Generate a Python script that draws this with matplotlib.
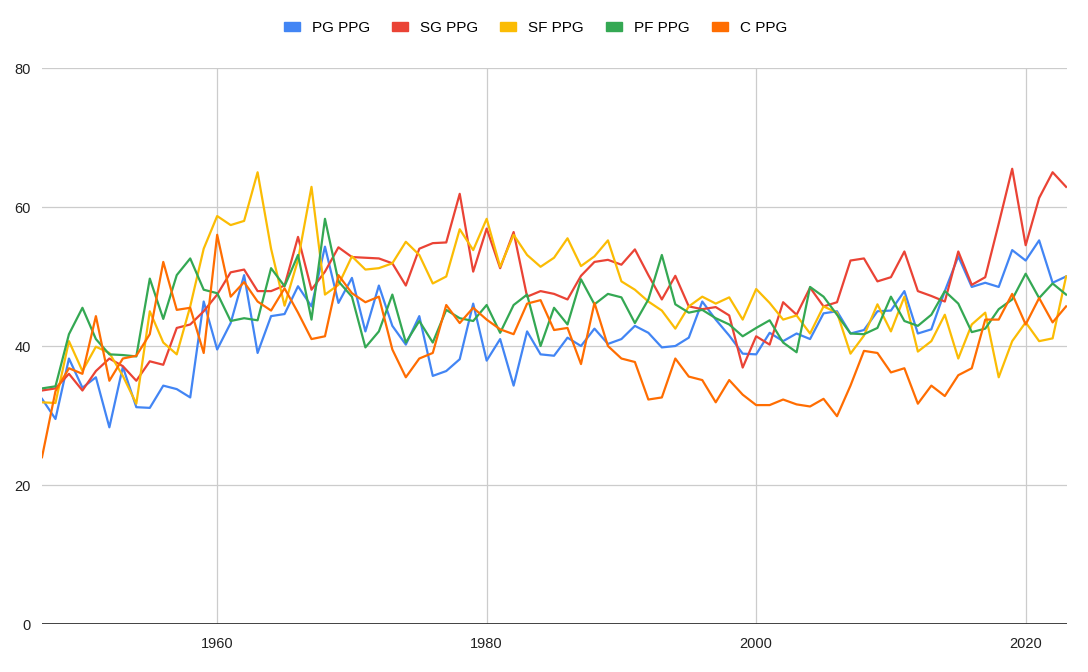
import numpy as np
import matplotlib
matplotlib.use('Agg')
import matplotlib.pyplot as plt
import matplotlib.patches as mpatches

plt.rcParams['font.family'] = ['Liberation Sans', 'DejaVu Sans']

# ── data: average points per game by position, 1947-2023 ──
years = np.arange(1947, 2024)

pg_ppg = [32.4, 29.5, 38.2, 34.0, 35.5, 28.3, 37.0, 31.2, 31.1, 34.3,
          33.8, 32.6, 46.4, 39.5, 43.3, 50.2, 39.0, 44.3, 44.6, 48.6,
          45.7, 54.3, 46.2, 49.8, 42.1, 48.7, 42.9, 40.2, 44.3, 35.7,
          36.4, 38.1, 46.1, 37.9, 41.0, 34.3, 42.1, 38.8, 38.6, 41.2,
          40.0, 42.5, 40.3, 41.0, 42.9, 41.9, 39.8, 40.0, 41.2, 46.4,
          43.8, 41.5, 38.9, 38.8, 41.9, 40.7, 41.8, 41.0, 44.7, 45.0,
          41.8, 42.3, 45.0, 45.1, 47.9, 41.8, 42.4, 47.9, 52.9, 48.5,
          49.1, 48.5, 53.8, 52.3, 55.2, 49.1, 50.0]

sg_ppg = [33.6, 33.9, 36.0, 33.6, 36.4, 38.2, 37.1, 35.0, 37.8, 37.3,
          42.6, 43.1, 45.0, 47.4, 50.6, 51.0, 47.9, 47.9, 48.7, 55.7,
          48.1, 50.7, 54.2, 52.8, 52.7, 52.6, 51.9, 48.7, 54.0, 54.8,
          54.9, 61.9, 50.7, 56.9, 51.2, 56.4, 47.1, 47.9, 47.5, 46.7,
          50.1, 52.1, 52.4, 51.7, 53.9, 50.2, 46.7, 50.1, 45.7, 45.3,
          45.6, 44.4, 36.9, 41.4, 40.2, 46.3, 44.5, 48.4, 45.7, 46.3,
          52.3, 52.6, 49.3, 49.9, 53.6, 47.9, 47.2, 46.4, 53.6, 48.8,
          49.9, 57.6, 65.5, 54.5, 61.3, 65.0, 62.9]

sf_ppg = [31.9, 31.8, 40.7, 36.4, 39.9, 39.0, 35.7, 31.7, 45.0, 40.5,
          38.8, 45.7, 54.0, 58.7, 57.4, 58.0, 65.0, 54.0, 45.8, 52.4,
          62.9, 47.4, 48.8, 52.9, 51.0, 51.2, 51.9, 55.0, 53.1, 49.0,
          50.0, 56.8, 53.8, 58.3, 51.4, 56.0, 53.1, 51.4, 52.7, 55.5,
          51.5, 52.9, 55.2, 49.3, 48.1, 46.4, 45.1, 42.5, 45.7, 47.1,
          46.1, 47.0, 43.8, 48.2, 46.2, 43.8, 44.4, 41.8, 45.7, 44.8,
          38.9, 41.5, 46.0, 42.1, 47.1, 39.2, 40.7, 44.5, 38.2, 43.1,
          44.8, 35.5, 40.7, 43.4, 40.7, 41.1, 50.0]

pf_ppg = [33.9, 34.2, 41.7, 45.5, 41.0, 38.8, 38.7, 38.5, 49.7, 43.9,
          50.2, 52.6, 48.1, 47.6, 43.6, 44.0, 43.7, 51.2, 48.6, 53.1,
          43.8, 58.3, 49.3, 47.1, 39.8, 42.1, 47.4, 40.5, 43.6, 40.5,
          45.2, 44.0, 43.6, 45.9, 41.9, 45.9, 47.4, 40.0, 45.5, 43.1,
          49.6, 46.0, 47.5, 47.0, 43.3, 46.7, 53.1, 46.0, 44.8, 45.2,
          44.0, 43.1, 41.4, 42.6, 43.7, 40.5, 39.1, 48.5, 47.1, 44.5,
          41.8, 41.7, 42.6, 47.1, 43.6, 42.9, 44.5, 47.9, 46.1, 42.0,
          42.5, 45.3, 46.7, 50.4, 46.9, 49.0, 47.4]

c_ppg = [24.0, 33.5, 36.8, 36.0, 44.3, 35.0, 38.2, 38.6, 41.7, 52.1,
         45.2, 45.5, 39.0, 56.0, 47.1, 49.2, 46.4, 45.1, 48.3, 44.8,
         41.0, 41.4, 50.2, 47.6, 46.3, 47.1, 39.5, 35.5, 38.2, 39.0,
         45.9, 43.3, 45.5, 43.8, 42.4, 41.7, 46.1, 46.6, 42.3, 42.6,
         37.4, 46.2, 40.0, 38.2, 37.7, 32.3, 32.6, 38.2, 35.6, 35.1,
         31.9, 35.1, 33.0, 31.5, 31.5, 32.3, 31.6, 31.3, 32.4, 29.9,
         34.3, 39.3, 39.0, 36.2, 36.8, 31.7, 34.3, 32.8, 35.8, 36.8,
         43.8, 43.8, 47.5, 43.1, 46.9, 43.4, 45.7]

series_names = ['PG PPG', 'SG PPG', 'SF PPG', 'PF PPG', 'C PPG']
series_data = [pg_ppg, sg_ppg, sf_ppg, pf_ppg, c_ppg]
colors = ['#4285F4', '#EA4335', '#FBBC04', '#34A853', '#FF6D01']

x_ticks = [1960, 1980, 2000, 2020]
y_ticks = [0, 20, 40, 60, 80]

# ── plot ──
fig = plt.figure(figsize=(10.88, 6.72), dpi=100)
ax = fig.add_axes([0.0386, 0.0714, 0.9425, 0.8274])

for name, vals, color in zip(series_names, series_data, colors):
    ax.plot(years, vals, color=color, linewidth=1.6, label=name,
            solid_joinstyle='round', zorder=3)

ax.set_xlim(1947, 2023.1)
ax.set_ylim(0, 80)
ax.set_xticks(x_ticks)
ax.set_yticks(y_ticks)
ax.tick_params(length=0, labelsize=10.5, colors='#222222')
ax.tick_params(axis='y', pad=8)
ax.tick_params(axis='x', pad=9)

ax.grid(True, color='#cccccc', linewidth=0.9, zorder=0)
ax.axhline(0, color='#333333', linewidth=1.3, zorder=2)
for s in ax.spines.values():
    s.set_visible(False)

# legend on top with square swatches
handles = [mpatches.Patch(color=c, label=n) for n, c in zip(series_names, colors)]
fig.legend(handles=handles, loc='center', bbox_to_anchor=(0.492, 0.958), ncol=5,
           frameon=False, fontsize=11, handlelength=1.05, handleheight=0.5,
           handletextpad=0.78, columnspacing=1.45)

plt.savefig('out.png', dpi=100)
plt.close()
